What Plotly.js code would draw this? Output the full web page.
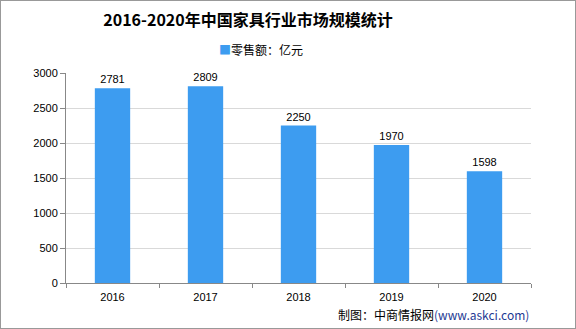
<!DOCTYPE html>
<html><head><meta charset="utf-8">
<script src="https://cdn.plot.ly/plotly-3.0.1.min.js"></script>
<style>html,body{margin:0;padding:0;background:#fff}#c{width:576px;height:329px;box-sizing:border-box;border:1px solid #999}</style>
</head><body><div id="c"></div>
<script>
const years = ['2016','2017','2018','2019','2020'];
const retail = [2781, 2809, 2250, 1970, 1598];
const seriesName = '零售额：亿元';
const titleText = '2016-2020年中国家具行业市场规模统计';
const sourceText = '制图：中商情报网<span style="color:#1f3a93">(www.askci.com)</span>';
const barColor = '#3d9cf0';

const trace = {
  type: 'bar', x: years, y: retail, name: seriesName,
  marker: {color: barColor},
  text: retail.map(String), textposition: 'outside', cliponaxis: false,
  textfont: {family: 'Liberation Sans, Arial, sans-serif', size: 11, color: '#000'}
};
const layout = {
  width: 574, height: 327,
  margin: {l: 65, r: 44, t: 72, b: 45},
  paper_bgcolor: '#fff', plot_bgcolor: '#fff',
  title: {text: '<b>' + titleText + '</b>', xref: 'paper', x: (248 - 66) / 465, xanchor: 'center', y: 0.94, yanchor: 'middle',
    font: {family: 'Noto Sans CJK SC, sans-serif', size: 16, color: '#000'}},
  showlegend: false,
  bargap: 0.62,
  xaxis: {type: 'category', showline: true, linecolor: '#888', linewidth: 1,
    ticks: 'outside', tickson: 'boundaries', ticklen: 4, tickcolor: '#888', ticklabelstandoff: 4,
    tickfont: {family: 'Liberation Sans, Arial, sans-serif', size: 11, color: '#000'}},
  yaxis: {range: [0, 3000], dtick: 500, showline: true, linecolor: '#888', linewidth: 1,
    ticks: 'outside', ticklen: 5, tickcolor: '#888', gridcolor: '#d9d9d9', zeroline: false,
    tickfont: {family: 'Liberation Sans, Arial, sans-serif', size: 11, color: '#000'}},
  annotations: [
    {text: '<span style="color:' + barColor + '">■</span>' + seriesName, xref: 'paper', yref: 'paper',
      x: (261 - 66) / 465, xanchor: 'center', y: 1.11, yanchor: 'middle', showarrow: false,
      font: {family: 'Noto Sans CJK SC, sans-serif', size: 12, color: '#000'}},
    {text: sourceText, xref: 'paper', yref: 'paper', x: 1, xanchor: 'right',
      y: -0.15, yanchor: 'middle', showarrow: false,
      font: {family: 'Noto Sans CJK SC, sans-serif', size: 12, color: '#000'}}]
};
Plotly.newPlot('c', [trace], layout, {displayModeBar: false, staticPlot: true});
</script></body></html>
